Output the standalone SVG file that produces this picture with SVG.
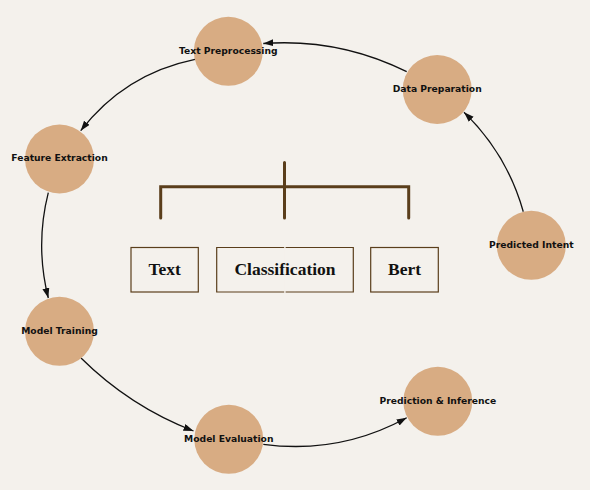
<svg xmlns="http://www.w3.org/2000/svg" width="590" height="490" viewBox="0 0 590 490">
<defs>
<style>
.node circle{fill:#d8ac83;stroke:none}
.node text{font-family:"DejaVu Sans",sans-serif;font-weight:bold;font-size:9.2px;fill:#111;text-anchor:middle}
.edge{fill:none;stroke:#111;stroke-width:1.3;marker-end:url(#arr)}
.tree{fill:none;stroke:#5a3e1b;stroke-width:3;stroke-linecap:round}
.box{fill:#f4f1ec;stroke:#5a3e1b;stroke-width:1.2}
.lbl{font-family:"Liberation Serif",serif;font-weight:bold;font-size:17.5px;fill:#111;text-anchor:middle}
</style>
<marker id="arr" markerUnits="userSpaceOnUse" markerWidth="10" markerHeight="8" refX="10" refY="3.5" orient="auto">
<path d="M0,0 L10,3.5 L0,7 z" fill="#111"/>
</marker>
</defs>
<rect width="590" height="490" fill="#f4f1ec"/>
<g id="connectors">
<path class="edge" d="M406.7,71.7 Q338.9,38 263.3,43.5"/>
<path class="edge" d="M195,59.3 Q124.6,73.8 80.7,130.7"/>
<path class="edge" d="M48.3,192.7 Q35,245.3 48.3,298"/>
<path class="edge" d="M81,358 Q129.6,406.2 193.5,431"/>
<path class="edge" d="M263.3,444.3 Q339.3,454.5 406.7,417.7"/>
<path class="edge" d="M523.3,211.7 Q507,154 464,112.3"/>
</g>
<g id="tree">
<path class="tree" d="M284.5,162.5 V218 M160.7,218 V186.7 H408.7 V218"/>
</g>
<g id="box-text">
<rect class="box" x="131" y="247.5" width="67.3" height="44.5"/>
<text class="lbl" x="164.7" y="275.3">Text</text>
</g>
<g id="box-classification">
<path class="box" d="M284.2,247.5 H216.7 V292 H284.2 M285.6,292 H353.3 V247.5 H285.6"/>
<text class="lbl" x="285" y="275.3">Classification</text>
</g>
<g id="box-bert">
<rect class="box" x="370.7" y="247.5" width="67.6" height="44.5"/>
<text class="lbl" x="404.5" y="275.3">Bert</text>
</g>
<g id="node-text-preprocessing" class="node">
<circle cx="228.3" cy="51.3" r="34.5"/>
<text x="228.3" y="53.6">Text Preprocessing</text>
</g>
<g id="node-data-preparation" class="node">
<circle cx="437.2" cy="89.5" r="34.5"/>
<text x="437.2" y="91.8">Data Preparation</text>
</g>
<g id="node-predicted-intent" class="node">
<circle cx="531.3" cy="245.3" r="34.5"/>
<text x="531.3" y="247.6">Predicted Intent</text>
</g>
<g id="node-prediction-inference" class="node">
<circle cx="437.8" cy="401.3" r="34.5"/>
<text x="437.8" y="403.6">Prediction &amp; Inference</text>
</g>
<g id="node-model-evaluation" class="node">
<circle cx="228.8" cy="439.3" r="34.5"/>
<text x="228.8" y="441.6">Model Evaluation</text>
</g>
<g id="node-model-training" class="node">
<circle cx="59.5" cy="331.3" r="34.5"/>
<text x="59.5" y="333.6">Model Training</text>
</g>
<g id="node-feature-extraction" class="node">
<circle cx="59.5" cy="159" r="34.5"/>
<text x="59.5" y="161.3">Feature Extraction</text>
</g>
</svg>
